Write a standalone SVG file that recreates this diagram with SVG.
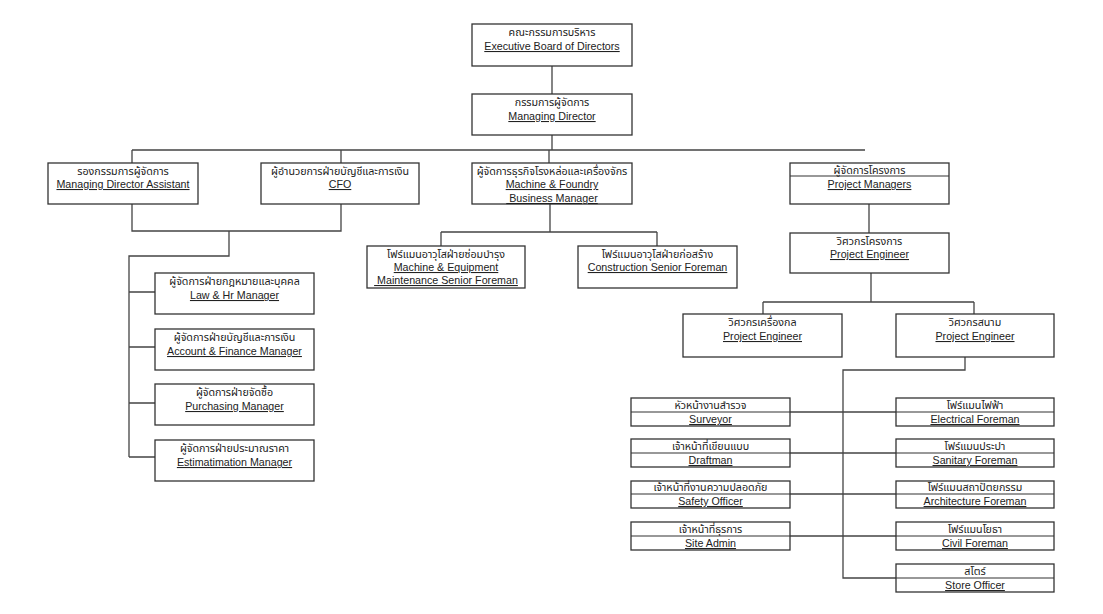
<svg xmlns="http://www.w3.org/2000/svg" width="1103" height="614" viewBox="0 0 1103 614">
<style>
.b{fill:#fff;stroke:#333;stroke-width:1.3}
.s{fill:none;stroke:#333;stroke-width:1.2}
.c{fill:none;stroke:#444;stroke-width:1.3}
text{font-family:"Liberation Sans","Noto Sans Thai","Tlwg Typo","Garuda","DejaVu Sans",Arial,sans-serif;font-size:10.7px;fill:#222;text-anchor:middle}
.u{text-decoration:underline}
</style>
<rect width="1103" height="614" fill="#fff"/>
<g id="connectors">
<path class="c" d="M552 66V94M552 135V150M132 150H865M132 150V163M341 150V163M549 150V163"/>
<path class="c" d="M132 204V231H341V204M229 231V256H129V457M129 292H155M129 347H155M129 403H155M129 457H155"/>
<path class="c" d="M550 204V232M441 232H657M441 232V246M657 232V246"/>
<path class="c" d="M869 204V233M871 273V302M763 302H974M763 302V314M974 302V314"/>
<path class="c" d="M965 357V370H843V578H896M790 412H896M790 453H896M790 494H896M790 536H896"/>
</g>
<g id="exec"><rect class="b" x="472" y="24" width="160" height="42"/><text x="552" y="36">คณะกรรมการบริหาร</text><text class="u" x="552" y="50">Executive Board of Directors</text></g>
<g id="md"><rect class="b" x="472" y="94" width="160" height="41"/><text x="552" y="106">กรรมการผู้จัดการ</text><text class="u" x="552" y="120">Managing Director</text></g>
<g id="mda"><rect class="b" x="48" y="163" width="150" height="41"/><text x="123" y="175">รองกรรมการผู้จัดการ</text><text class="u" x="123" y="188">Managing Director Assistant</text></g>
<g id="cfo"><rect class="b" x="261" y="163" width="158" height="41"/><text x="340" y="175">ผู้อำนวยการฝ่ายบัญชีและการเงิน</text><text class="u" x="340" y="188">CFO</text></g>
<g id="mfbm"><rect class="b" x="472" y="163" width="160" height="41"/><text x="552" y="175">ผู้จัดการธุรกิจโรงหล่อและเครื่องจักร</text><text class="u" x="552" y="188">Machine &amp; Foundry</text><text class="u" x="552" y="202" xml:space="preserve"> Business Manager</text></g>
<g id="pm"><rect class="b" x="790" y="163" width="159" height="41"/><line class="s" x1="790" y1="176" x2="949" y2="176"/><text x="869.5" y="174">ผู้จัดการโครงการ</text><text class="u" x="869.5" y="188">Project Managers</text></g>
<g id="mesf"><rect class="b" x="367" y="246" width="158" height="42"/><text x="446" y="258">โฟร์แมนอาวุโสฝ่ายซ่อมบำรุง</text><text class="u" x="446" y="271">Machine &amp; Equipment</text><text class="u" x="446" y="284" xml:space="preserve"> Maintenance Senior Foreman</text></g>
<g id="csf"><rect class="b" x="578" y="246" width="159" height="42"/><text x="657.5" y="258">โฟร์แมนอาวุโสฝ่ายก่อสร้าง</text><text class="u" x="657.5" y="271">Construction Senior Foreman</text></g>
<g id="pe"><rect class="b" x="790" y="233" width="159" height="40"/><text x="869.5" y="245">วิศวกรโครงการ</text><text class="u" x="869.5" y="258">Project Engineer</text></g>
<g id="law"><rect class="b" x="155" y="273" width="159" height="41"/><text x="234.5" y="285">ผู้จัดการฝ่ายกฎหมายและบุคคล</text><text class="u" x="234.5" y="299">Law &amp; Hr Manager</text></g>
<g id="acc"><rect class="b" x="155" y="329" width="159" height="41"/><text x="234.5" y="341">ผู้จัดการฝ่ายบัญชีและการเงิน</text><text class="u" x="234.5" y="355">Account &amp; Finance Manager</text></g>
<g id="pur"><rect class="b" x="155" y="384" width="159" height="41"/><text x="234.5" y="396">ผู้จัดการฝ่ายจัดซื้อ</text><text class="u" x="234.5" y="410">Purchasing Manager</text></g>
<g id="est"><rect class="b" x="155" y="440" width="159" height="41"/><text x="234.5" y="452">ผู้จัดการฝ่ายประมาณราคา</text><text class="u" x="234.5" y="466">Estimatimation Manager</text></g>
<g id="mech"><rect class="b" x="683" y="314" width="159" height="43"/><text x="762.5" y="326">วิศวกรเครื่องกล</text><text class="u" x="762.5" y="340">Project Engineer</text></g>
<g id="field"><rect class="b" x="896" y="314" width="158" height="43"/><text x="975" y="326">วิศวกรสนาม</text><text class="u" x="975" y="340">Project Engineer</text></g>
<g id="surveyor"><rect class="b" x="631" y="398" width="159" height="28"/><line class="s" x1="631" y1="412" x2="790" y2="412"/><text x="710.5" y="409">หัวหน้างานสำรวจ</text><text class="u" x="710.5" y="423">Surveyor</text></g>
<g id="draftman"><rect class="b" x="631" y="439" width="159" height="28"/><line class="s" x1="631" y1="453" x2="790" y2="453"/><text x="710.5" y="450">เจ้าหน้าที่เขียนแบบ</text><text class="u" x="710.5" y="464">Draftman</text></g>
<g id="safety"><rect class="b" x="631" y="481" width="159" height="27"/><line class="s" x1="631" y1="494" x2="790" y2="494"/><text x="710.5" y="491">เจ้าหน้าที่งานความปลอดภัย</text><text class="u" x="710.5" y="505">Safety Officer</text></g>
<g id="siteadmin"><rect class="b" x="631" y="522" width="159" height="28"/><line class="s" x1="631" y1="536" x2="790" y2="536"/><text x="710.5" y="533">เจ้าหน้าที่ธุรการ</text><text class="u" x="710.5" y="547">Site Admin</text></g>
<g id="elec"><rect class="b" x="896" y="398" width="158" height="28"/><line class="s" x1="896" y1="412" x2="1054" y2="412"/><text x="975" y="409">โฟร์แมนไฟฟ้า</text><text class="u" x="975" y="423">Electrical Foreman</text></g>
<g id="sanitary"><rect class="b" x="896" y="439" width="158" height="28"/><line class="s" x1="896" y1="453" x2="1054" y2="453"/><text x="975" y="450">โฟร์แมนประปา</text><text class="u" x="975" y="464">Sanitary Foreman</text></g>
<g id="arch"><rect class="b" x="896" y="481" width="158" height="27"/><line class="s" x1="896" y1="494" x2="1054" y2="494"/><text x="975" y="491">โฟร์แมนสถาปัตยกรรม</text><text class="u" x="975" y="505">Architecture Foreman</text></g>
<g id="civil"><rect class="b" x="896" y="522" width="158" height="28"/><line class="s" x1="896" y1="536" x2="1054" y2="536"/><text x="975" y="533">โฟร์แมนโยธา</text><text class="u" x="975" y="547">Civil Foreman</text></g>
<g id="store"><rect class="b" x="896" y="564" width="158" height="28"/><line class="s" x1="896" y1="578" x2="1054" y2="578"/><text x="975" y="575">สโตร์</text><text class="u" x="975" y="589">Store Officer</text></g>
</svg>
